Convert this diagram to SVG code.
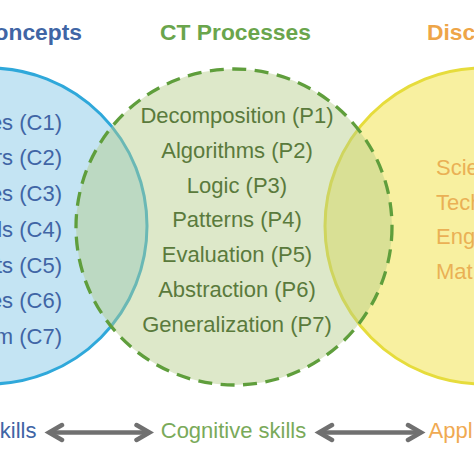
<svg xmlns="http://www.w3.org/2000/svg" width="474" height="474" viewBox="0 0 474 474">
  <defs>
    <style>
      text { font-family: "Liberation Sans", Arial, sans-serif; font-size: 22px; }
      .title { font-weight: bold; font-size: 22.8px; }
      .blue { fill: #4065a5; }
      .green { fill: #6aa54c; }
      .orange { fill: #eea548; }
      .ptext { fill: #5a7a3c; }
      .dtext { fill: #eab055; }
      .conn { stroke: #707070; stroke-width: 4.5; fill: none; }
    </style>
    <marker id="chev" markerUnits="userSpaceOnUse" viewBox="0 0 22 22" refX="17" refY="11" markerWidth="22" markerHeight="22" orient="auto-start-reverse">
      <path d="M4,3.5 L17,11 L4,18.5" fill="none" stroke="#707070" stroke-width="4.5" stroke-linejoin="miter" stroke-linecap="round"/>
    </marker>
  </defs>
  <rect width="474" height="474" fill="#ffffff"/>

  <g id="concepts">
    <circle cx="-11" cy="226" r="158" fill="#c4e4f3" stroke="#2fa8da" stroke-width="3"/>
    <text class="title blue" x="82" y="39.5" text-anchor="end">oncepts</text>
    <g class="blue" text-anchor="end">
      <text x="62" y="129.5">es (C1)</text>
      <text x="62" y="165.3">rs (C2)</text>
      <text x="62" y="201">es (C3)</text>
      <text x="62" y="236.8">ls (C4)</text>
      <text x="62" y="272.5">ts (C5)</text>
      <text x="62" y="308.3">es (C6)</text>
      <text x="62" y="344">m (C7)</text>
    </g>
  </g>

  <g id="disciplines">
    <circle cx="483" cy="226" r="158" fill="#f8f0a0" stroke="#e6dc3c" stroke-width="3"/>
    <text class="title orange" x="427" y="39.5">Disc</text>
    <g class="dtext">
      <text x="436" y="175">Scie</text>
      <text x="436" y="209.5">Tech</text>
      <text x="436" y="244">Eng</text>
      <text x="436" y="278.5">Mat</text>
    </g>
  </g>

  <g id="processes">
    <circle cx="234" cy="227" r="158" fill="#b3cc87" fill-opacity="0.45"/>
    <circle cx="234" cy="227" r="158" fill="none" stroke="#5f9e3c" stroke-width="3.3" stroke-dasharray="14 8.5"/>
    <text class="title green" x="235.5" y="39.5" text-anchor="middle">CT Processes</text>
    <g class="ptext" text-anchor="middle">
      <text x="237" y="123.3">Decomposition (P1)</text>
      <text x="237" y="158">Algorithms (P2)</text>
      <text x="237" y="192.7">Logic (P3)</text>
      <text x="237" y="227.4">Patterns (P4)</text>
      <text x="237" y="262.1">Evaluation (P5)</text>
      <text x="237" y="296.9">Abstraction (P6)</text>
      <text x="237" y="331.6">Generalization (P7)</text>
    </g>
  </g>

  <g id="skill-labels">
    <text class="blue" x="36.5" y="437.5" text-anchor="end">kills</text>
    <text x="233.5" y="437.5" text-anchor="middle" fill="#7aaa5a">Cognitive skills</text>
    <text x="428.5" y="437.5" fill="#f0aa52">Appl</text>
  </g>

  <g id="connectors">
    <line class="conn" x1="49" y1="432.5" x2="149.5" y2="432.5" marker-start="url(#chev)" marker-end="url(#chev)"/>
    <line class="conn" x1="319" y1="432.5" x2="421" y2="432.5" marker-start="url(#chev)" marker-end="url(#chev)"/>
  </g>
</svg>
